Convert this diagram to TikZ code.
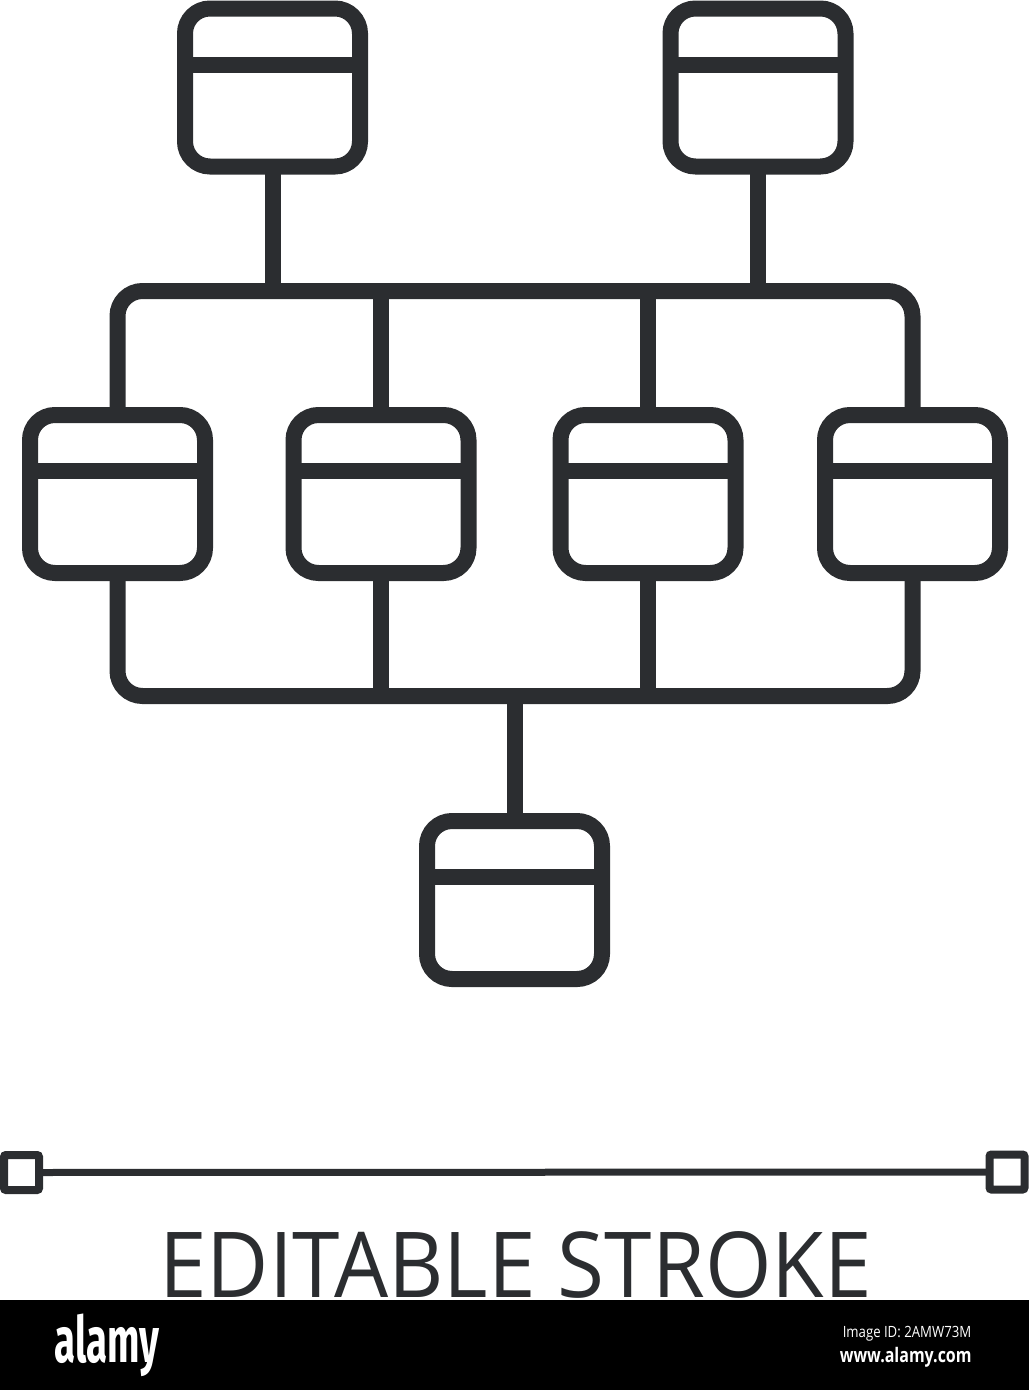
\documentclass[tikz,border=0pt]{standalone}
\usepackage{fontspec}
\usetikzlibrary{positioning,calc}
\newfontfamily\labelfont{Open Sans}
\newfontfamily\logofont{Fira Sans}
\definecolor{strokegray}{RGB}{43,45,48}

\begin{document}
\begin{tikzpicture}[x=1pt,y=-1pt,line width=16pt,draw=strokegray,
	dbbox/.style={draw=strokegray,rectangle,rounded corners=25pt,minimum width=175pt,minimum height=158pt,outer sep=0pt,inner sep=0pt},
	endsq/.style={draw=strokegray,rectangle,rounded corners=2pt,line width=8pt,minimum size=35pt,outer sep=0pt,inner sep=0pt,fill=white}]
\useasboundingbox (0,0) rectangle (1029,1390);

% top level
\node[dbbox] (t1) at (272.5,87.5) {};
\node[dbbox] (t2) at (758,87.5) {};

% middle row
\foreach \x [count=\i] in {117.5,381,648,912.5}
	\node[dbbox] (r\i) at (\x,494) {};

% bottom
\node[dbbox] (b1) at (514.5,900) {};

% divider lines in each box
\foreach \n in {t1,t2,r1,r2,r3,r4,b1}
	\draw ([yshift=-56pt]\n.north west) -- ([yshift=-56pt]\n.north east);

\coordinate (bustop) at (515,291);
\coordinate (busbot) at (515,696);

\draw[rounded corners=25pt] (r1.north) -- (r1.north |- bustop) -- (r4.north |- bustop) -- (r4.north);
\draw[rounded corners=25pt] (r1.south) -- (r1.south |- busbot) -- (r4.south |- busbot) -- (r4.south);
\foreach \n in {r2,r3} {
	\draw (\n.north) -- (\n.north |- bustop);
	\draw (\n.south) -- (\n.south |- busbot);
}
\draw (t1.south) -- (t1.south |- bustop);
\draw (t2.south) -- (t2.south |- bustop);
\draw (b1.north) -- (b1.north |- busbot);

% editable stroke
\node[endsq] (sq1) at (21.5,1172.5) {};
\node[endsq] (sq2) at (1007,1172) {};
\draw[line width=7pt] (sq1) -- (sq2);
\node[anchor=base,text=strokegray,inner sep=0pt,xscale=0.94,transform shape] (label) at (515.5,1297)
	{\labelfont\fontsize{91}{91}\selectfont EDITABLE STROKE};

\begin{scope}
\fill[black] (0,1300) rectangle (1029,1390);
\node[anchor=base west,text=white,inner sep=0pt,xscale=0.6,transform shape] (logo) at (50,1362)
	{\logofont\bfseries\fontsize{64}{64}\selectfont alamy};
\node[anchor=base east,text=white,inner sep=0pt,xscale=0.85,transform shape] (imgid) at (978,1337)
	{\labelfont\fontsize{15.5}{15.5}\selectfont Image ID: 2AMW73M};
\node[anchor=base east,text=white,inner sep=0pt,xscale=0.8,transform shape] (site) at (978,1362)
	{\labelfont\bfseries\fontsize{20}{20}\selectfont www.alamy.com};
\end{scope}

\end{tikzpicture}
\end{document}
